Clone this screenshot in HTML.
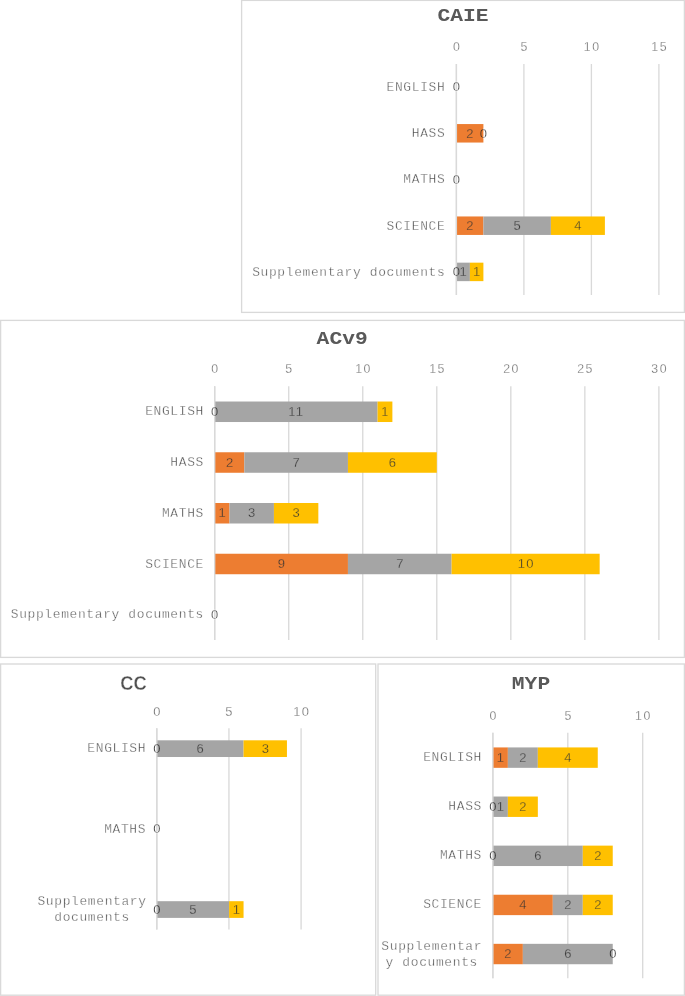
<!DOCTYPE html>
<html><head><meta charset="utf-8"><title>Charts</title>
<style>
html,body{margin:0;padding:0;background:#fff;}
svg{display:block;}
text.m{font-family:"Liberation Mono",monospace;font-size:12.3px;letter-spacing:0.620px;}
text.t{font-family:"Liberation Mono",monospace;font-weight:bold;font-size:18.5px;letter-spacing:0.030px;}
text.d{font-family:"Liberation Sans",sans-serif;}
text.sb{font-family:"Liberation Sans",sans-serif;font-weight:bold;font-size:19.5px;}
</style></head><body>
<svg width="685" height="996" viewBox="0 0 685 996">
<defs>
<linearGradient id="g0" gradientUnits="userSpaceOnUse" x1="473.40" y1="0" x2="493.40" y2="0"><stop offset="0.5" stop-color="#ED7D31"/><stop offset="0.5" stop-color="#fff"/></linearGradient>
<linearGradient id="g1" gradientUnits="userSpaceOnUse" x1="446.40" y1="0" x2="466.40" y2="0"><stop offset="0.5" stop-color="#fff"/><stop offset="0.5" stop-color="#A5A5A5"/></linearGradient>
<linearGradient id="g2" gradientUnits="userSpaceOnUse" x1="204.70" y1="0" x2="224.70" y2="0"><stop offset="0.5" stop-color="#fff"/><stop offset="0.5" stop-color="#A5A5A5"/></linearGradient>
<linearGradient id="g3" gradientUnits="userSpaceOnUse" x1="146.80" y1="0" x2="166.80" y2="0"><stop offset="0.5" stop-color="#fff"/><stop offset="0.5" stop-color="#A5A5A5"/></linearGradient>
<linearGradient id="g4" gradientUnits="userSpaceOnUse" x1="146.80" y1="0" x2="166.80" y2="0"><stop offset="0.5" stop-color="#fff"/><stop offset="0.5" stop-color="#A5A5A5"/></linearGradient>
<linearGradient id="g5" gradientUnits="userSpaceOnUse" x1="482.90" y1="0" x2="502.90" y2="0"><stop offset="0.5" stop-color="#fff"/><stop offset="0.5" stop-color="#A5A5A5"/></linearGradient>
<linearGradient id="g6" gradientUnits="userSpaceOnUse" x1="482.90" y1="0" x2="502.90" y2="0"><stop offset="0.5" stop-color="#fff"/><stop offset="0.5" stop-color="#A5A5A5"/></linearGradient>
<linearGradient id="g7" gradientUnits="userSpaceOnUse" x1="602.74" y1="0" x2="622.74" y2="0"><stop offset="0.5" stop-color="#A5A5A5"/><stop offset="0.5" stop-color="#fff"/></linearGradient>
</defs>
<rect width="685" height="996" fill="#fff"/>
<g>
<rect x="241.6" y="0.4" width="442.80" height="312.00" fill="#fff" stroke="#d9d9d9" stroke-width="1.33"/>
<text class="t" transform="translate(437.42,21.30) scale(1.15,1)" fill="#595959">CAIE</text>
<line x1="456.40" y1="64.00" x2="456.40" y2="295.00" stroke="#d9d9d9" stroke-width="1.33"/>
<text class="d" x="452.98" y="51.20" font-size="12.3" letter-spacing="1.559" fill="#5a5a5a" stroke="#fff" stroke-width="0.32">0</text>
<line x1="523.90" y1="64.00" x2="523.90" y2="295.00" stroke="#d9d9d9" stroke-width="1.33"/>
<text class="d" x="520.48" y="51.20" font-size="12.3" letter-spacing="1.559" fill="#5a5a5a" stroke="#fff" stroke-width="0.32">5</text>
<line x1="591.40" y1="64.00" x2="591.40" y2="295.00" stroke="#d9d9d9" stroke-width="1.33"/>
<text class="d" x="583.78" y="51.20" font-size="12.3" letter-spacing="1.559" fill="#5a5a5a" stroke="#fff" stroke-width="0.32">10</text>
<line x1="658.90" y1="64.00" x2="658.90" y2="295.00" stroke="#d9d9d9" stroke-width="1.33"/>
<text class="d" x="651.28" y="51.20" font-size="12.3" letter-spacing="1.559" fill="#5a5a5a" stroke="#fff" stroke-width="0.32">15</text>
<rect x="456.40" y="124.06" width="27.00" height="18.48" fill="#ED7D31"/>
<rect x="456.40" y="216.46" width="27.00" height="18.48" fill="#ED7D31"/>
<rect x="483.40" y="216.46" width="67.50" height="18.48" fill="#A5A5A5"/>
<rect x="550.90" y="216.46" width="54.00" height="18.48" fill="#FFC000"/>
<rect x="456.40" y="262.66" width="13.50" height="18.48" fill="#A5A5A5"/>
<rect x="469.90" y="262.66" width="13.50" height="18.48" fill="#FFC000"/>
<line x1="456.40" y1="64.00" x2="456.40" y2="295.00" stroke="#d9d9d9" stroke-width="1.33"/>
<text class="m" transform="translate(386.53,91.00) scale(1.05,1)" fill="#4f4f4f" stroke="#fff" stroke-width="0.32">ENGLISH</text>
<text class="d" x="452.79" y="91.40" font-size="13.0" letter-spacing="1.170" fill="#1c1c1c" stroke="#fff" stroke-width="0.32">0</text>
<text class="m" transform="translate(411.73,137.20) scale(1.05,1)" fill="#4f4f4f" stroke="#fff" stroke-width="0.32">HASS</text>
<text class="d" x="466.29" y="137.60" font-size="13.0" letter-spacing="1.170" fill="#333333" stroke="#ED7D31" stroke-width="0.32">2</text>
<text class="d" x="479.79" y="137.60" font-size="13.0" letter-spacing="1.170" fill="#1c1c1c" stroke="url(#g0)" stroke-width="0.32">0</text>
<text class="m" transform="translate(403.33,183.40) scale(1.05,1)" fill="#4f4f4f" stroke="#fff" stroke-width="0.32">MATHS</text>
<text class="d" x="452.79" y="183.80" font-size="13.0" letter-spacing="1.170" fill="#1c1c1c" stroke="#fff" stroke-width="0.32">0</text>
<text class="m" transform="translate(386.53,229.60) scale(1.05,1)" fill="#4f4f4f" stroke="#fff" stroke-width="0.32">SCIENCE</text>
<text class="d" x="466.29" y="230.00" font-size="13.0" letter-spacing="1.170" fill="#333333" stroke="#ED7D31" stroke-width="0.32">2</text>
<text class="d" x="513.54" y="230.00" font-size="13.0" letter-spacing="1.170" fill="#333333" stroke="#A5A5A5" stroke-width="0.32">5</text>
<text class="d" x="574.29" y="230.00" font-size="13.0" letter-spacing="1.170" fill="#333333" stroke="#FFC000" stroke-width="0.32">4</text>
<text class="m" transform="translate(252.13,275.80) scale(1.05,1)" fill="#4f4f4f" stroke="#fff" stroke-width="0.32">Supplementary documents</text>
<text class="d" x="452.79" y="276.20" font-size="13.0" letter-spacing="1.170" fill="#1c1c1c" stroke="url(#g1)" stroke-width="0.32">0</text>
<text class="d" x="459.54" y="276.20" font-size="13.0" letter-spacing="1.170" fill="#333333" stroke="#A5A5A5" stroke-width="0.32">1</text>
<text class="d" x="473.04" y="276.20" font-size="13.0" letter-spacing="1.170" fill="#333333" stroke="#FFC000" stroke-width="0.32">1</text>
</g>
<g>
<rect x="0.6" y="320.4" width="683.80" height="337.00" fill="#fff" stroke="#d9d9d9" stroke-width="1.33"/>
<text class="t" transform="translate(316.62,343.60) scale(1.15,1)" fill="#595959">ACv9</text>
<line x1="214.70" y1="386.20" x2="214.70" y2="639.90" stroke="#d9d9d9" stroke-width="1.33"/>
<text class="d" x="211.28" y="373.20" font-size="12.3" letter-spacing="1.559" fill="#5a5a5a" stroke="#fff" stroke-width="0.32">0</text>
<line x1="288.73" y1="386.20" x2="288.73" y2="639.90" stroke="#d9d9d9" stroke-width="1.33"/>
<text class="d" x="285.31" y="373.20" font-size="12.3" letter-spacing="1.559" fill="#5a5a5a" stroke="#fff" stroke-width="0.32">5</text>
<line x1="362.76" y1="386.20" x2="362.76" y2="639.90" stroke="#d9d9d9" stroke-width="1.33"/>
<text class="d" x="355.14" y="373.20" font-size="12.3" letter-spacing="1.559" fill="#5a5a5a" stroke="#fff" stroke-width="0.32">10</text>
<line x1="436.79" y1="386.20" x2="436.79" y2="639.90" stroke="#d9d9d9" stroke-width="1.33"/>
<text class="d" x="429.17" y="373.20" font-size="12.3" letter-spacing="1.559" fill="#5a5a5a" stroke="#fff" stroke-width="0.32">15</text>
<line x1="510.82" y1="386.20" x2="510.82" y2="639.90" stroke="#d9d9d9" stroke-width="1.33"/>
<text class="d" x="503.20" y="373.20" font-size="12.3" letter-spacing="1.559" fill="#5a5a5a" stroke="#fff" stroke-width="0.32">20</text>
<line x1="584.85" y1="386.20" x2="584.85" y2="639.90" stroke="#d9d9d9" stroke-width="1.33"/>
<text class="d" x="577.23" y="373.20" font-size="12.3" letter-spacing="1.559" fill="#5a5a5a" stroke="#fff" stroke-width="0.32">25</text>
<line x1="658.88" y1="386.20" x2="658.88" y2="639.90" stroke="#d9d9d9" stroke-width="1.33"/>
<text class="d" x="651.26" y="373.20" font-size="12.3" letter-spacing="1.559" fill="#5a5a5a" stroke="#fff" stroke-width="0.32">30</text>
<rect x="214.70" y="401.52" width="162.87" height="20.50" fill="#A5A5A5"/>
<rect x="377.57" y="401.52" width="14.81" height="20.50" fill="#FFC000"/>
<rect x="214.70" y="452.26" width="29.61" height="20.50" fill="#ED7D31"/>
<rect x="244.31" y="452.26" width="103.64" height="20.50" fill="#A5A5A5"/>
<rect x="347.95" y="452.26" width="88.84" height="20.50" fill="#FFC000"/>
<rect x="214.70" y="503.00" width="14.81" height="20.50" fill="#ED7D31"/>
<rect x="229.51" y="503.00" width="44.42" height="20.50" fill="#A5A5A5"/>
<rect x="273.92" y="503.00" width="44.42" height="20.50" fill="#FFC000"/>
<rect x="214.70" y="553.74" width="133.25" height="20.50" fill="#ED7D31"/>
<rect x="347.95" y="553.74" width="103.64" height="20.50" fill="#A5A5A5"/>
<rect x="451.60" y="553.74" width="148.06" height="20.50" fill="#FFC000"/>
<line x1="214.70" y1="386.20" x2="214.70" y2="639.90" stroke="#d9d9d9" stroke-width="1.33"/>
<text class="m" transform="translate(145.13,415.47) scale(1.05,1)" fill="#4f4f4f" stroke="#fff" stroke-width="0.32">ENGLISH</text>
<text class="d" x="211.09" y="415.87" font-size="13.0" letter-spacing="1.170" fill="#1c1c1c" stroke="url(#g2)" stroke-width="0.32">0</text>
<text class="d" x="288.32" y="415.87" font-size="13.0" letter-spacing="1.170" fill="#333333" stroke="#A5A5A5" stroke-width="0.32">11</text>
<text class="d" x="381.35" y="415.87" font-size="13.0" letter-spacing="1.170" fill="#333333" stroke="#FFC000" stroke-width="0.32">1</text>
<text class="m" transform="translate(170.33,466.21) scale(1.05,1)" fill="#4f4f4f" stroke="#fff" stroke-width="0.32">HASS</text>
<text class="d" x="225.89" y="466.61" font-size="13.0" letter-spacing="1.170" fill="#333333" stroke="#ED7D31" stroke-width="0.32">2</text>
<text class="d" x="292.52" y="466.61" font-size="13.0" letter-spacing="1.170" fill="#333333" stroke="#A5A5A5" stroke-width="0.32">7</text>
<text class="d" x="388.76" y="466.61" font-size="13.0" letter-spacing="1.170" fill="#333333" stroke="#FFC000" stroke-width="0.32">6</text>
<text class="m" transform="translate(161.93,516.95) scale(1.05,1)" fill="#4f4f4f" stroke="#fff" stroke-width="0.32">MATHS</text>
<text class="d" x="218.49" y="517.35" font-size="13.0" letter-spacing="1.170" fill="#333333" stroke="#ED7D31" stroke-width="0.32">1</text>
<text class="d" x="248.10" y="517.35" font-size="13.0" letter-spacing="1.170" fill="#333333" stroke="#A5A5A5" stroke-width="0.32">3</text>
<text class="d" x="292.52" y="517.35" font-size="13.0" letter-spacing="1.170" fill="#333333" stroke="#FFC000" stroke-width="0.32">3</text>
<text class="m" transform="translate(145.13,567.69) scale(1.05,1)" fill="#4f4f4f" stroke="#fff" stroke-width="0.32">SCIENCE</text>
<text class="d" x="277.71" y="568.09" font-size="13.0" letter-spacing="1.170" fill="#333333" stroke="#ED7D31" stroke-width="0.32">9</text>
<text class="d" x="396.16" y="568.09" font-size="13.0" letter-spacing="1.170" fill="#333333" stroke="#A5A5A5" stroke-width="0.32">7</text>
<text class="d" x="517.81" y="568.09" font-size="13.0" letter-spacing="1.170" fill="#333333" stroke="#FFC000" stroke-width="0.32">10</text>
<text class="m" transform="translate(10.73,618.43) scale(1.05,1)" fill="#4f4f4f" stroke="#fff" stroke-width="0.32">Supplementary documents</text>
<text class="d" x="211.09" y="618.83" font-size="13.0" letter-spacing="1.170" fill="#1c1c1c" stroke="#fff" stroke-width="0.32">0</text>
</g>
<g>
<rect x="0.6" y="664.0" width="375.10" height="331.20" fill="#fff" stroke="#d9d9d9" stroke-width="1.33"/>
<line x1="156.80" y1="728.30" x2="156.80" y2="929.40" stroke="#d9d9d9" stroke-width="1.33"/>
<text class="d" x="153.21" y="716.00" font-size="12.9" letter-spacing="1.226" fill="#5a5a5a" stroke="#fff" stroke-width="0.32">0</text>
<line x1="228.95" y1="728.30" x2="228.95" y2="929.40" stroke="#d9d9d9" stroke-width="1.33"/>
<text class="d" x="225.36" y="716.00" font-size="12.9" letter-spacing="1.226" fill="#5a5a5a" stroke="#fff" stroke-width="0.32">5</text>
<line x1="301.10" y1="728.30" x2="301.10" y2="929.40" stroke="#d9d9d9" stroke-width="1.33"/>
<text class="d" x="293.31" y="716.00" font-size="12.9" letter-spacing="1.226" fill="#5a5a5a" stroke="#fff" stroke-width="0.32">10</text>
<rect x="156.80" y="740.31" width="86.76" height="16.70" fill="#A5A5A5"/>
<rect x="243.56" y="740.31" width="43.38" height="16.70" fill="#FFC000"/>
<rect x="156.80" y="901.19" width="72.30" height="16.70" fill="#A5A5A5"/>
<rect x="229.10" y="901.19" width="14.46" height="16.70" fill="#FFC000"/>
<line x1="156.80" y1="728.30" x2="156.80" y2="929.40" stroke="#d9d9d9" stroke-width="1.33"/>
<text class="m" transform="translate(87.33,752.31) scale(1.05,1)" fill="#4f4f4f" stroke="#fff" stroke-width="0.32">ENGLISH</text>
<text class="d" x="153.19" y="752.71" font-size="13.0" letter-spacing="1.170" fill="#1c1c1c" stroke="url(#g3)" stroke-width="0.32">0</text>
<text class="d" x="196.57" y="752.71" font-size="13.0" letter-spacing="1.170" fill="#333333" stroke="#A5A5A5" stroke-width="0.32">6</text>
<text class="d" x="261.64" y="752.71" font-size="13.0" letter-spacing="1.170" fill="#333333" stroke="#FFC000" stroke-width="0.32">3</text>
<text class="m" transform="translate(104.13,832.75) scale(1.05,1)" fill="#4f4f4f" stroke="#fff" stroke-width="0.32">MATHS</text>
<text class="d" x="153.19" y="833.15" font-size="13.0" letter-spacing="1.170" fill="#1c1c1c" stroke="#fff" stroke-width="0.32">0</text>
<text class="m" transform="translate(37.43,905.24) scale(1.05,1)" fill="#4f4f4f" stroke="#fff" stroke-width="0.32">Supplementary</text>
<text class="m" transform="translate(54.23,921.14) scale(1.05,1)" fill="#4f4f4f" stroke="#fff" stroke-width="0.32">documents</text>
<text class="d" x="153.19" y="913.59" font-size="13.0" letter-spacing="1.170" fill="#1c1c1c" stroke="url(#g4)" stroke-width="0.32">0</text>
<text class="d" x="189.34" y="913.59" font-size="13.0" letter-spacing="1.170" fill="#333333" stroke="#A5A5A5" stroke-width="0.32">5</text>
<text class="d" x="232.72" y="913.59" font-size="13.0" letter-spacing="1.170" fill="#333333" stroke="#FFC000" stroke-width="0.32">1</text>
</g>
<text class="sb" transform="translate(133.4,689.5) scale(0.94,1)" fill="#505050" stroke="#fff" stroke-width="0.35" text-anchor="middle">CC</text>
<g>
<rect x="378.0" y="664.0" width="306.40" height="331.20" fill="#fff" stroke="#d9d9d9" stroke-width="1.33"/>
<text class="t" transform="translate(511.82,689.10) scale(1.15,1)" fill="#595959">MYP</text>
<line x1="492.90" y1="732.70" x2="492.90" y2="978.20" stroke="#d9d9d9" stroke-width="1.33"/>
<text class="d" x="489.48" y="719.90" font-size="12.3" letter-spacing="1.559" fill="#5a5a5a" stroke="#fff" stroke-width="0.32">0</text>
<line x1="567.80" y1="732.70" x2="567.80" y2="978.20" stroke="#d9d9d9" stroke-width="1.33"/>
<text class="d" x="564.38" y="719.90" font-size="12.3" letter-spacing="1.559" fill="#5a5a5a" stroke="#fff" stroke-width="0.32">5</text>
<line x1="642.70" y1="732.70" x2="642.70" y2="978.20" stroke="#d9d9d9" stroke-width="1.33"/>
<text class="d" x="635.08" y="719.90" font-size="12.3" letter-spacing="1.559" fill="#5a5a5a" stroke="#fff" stroke-width="0.32">10</text>
<rect x="492.90" y="747.43" width="14.98" height="20.40" fill="#ED7D31"/>
<rect x="507.88" y="747.43" width="29.96" height="20.40" fill="#A5A5A5"/>
<rect x="537.84" y="747.43" width="59.92" height="20.40" fill="#FFC000"/>
<rect x="492.90" y="796.53" width="14.98" height="20.40" fill="#A5A5A5"/>
<rect x="507.88" y="796.53" width="29.96" height="20.40" fill="#FFC000"/>
<rect x="492.90" y="845.63" width="89.88" height="20.40" fill="#A5A5A5"/>
<rect x="582.78" y="845.63" width="29.96" height="20.40" fill="#FFC000"/>
<rect x="492.90" y="894.73" width="59.92" height="20.40" fill="#ED7D31"/>
<rect x="552.82" y="894.73" width="29.96" height="20.40" fill="#A5A5A5"/>
<rect x="582.78" y="894.73" width="29.96" height="20.40" fill="#FFC000"/>
<rect x="492.90" y="943.83" width="29.96" height="20.40" fill="#ED7D31"/>
<rect x="522.86" y="943.83" width="89.88" height="20.40" fill="#A5A5A5"/>
<line x1="492.90" y1="732.70" x2="492.90" y2="978.20" stroke="#d9d9d9" stroke-width="1.33"/>
<text class="m" transform="translate(423.13,761.15) scale(1.05,1)" fill="#4f4f4f" stroke="#fff" stroke-width="0.32">ENGLISH</text>
<text class="d" x="496.78" y="761.55" font-size="13.0" letter-spacing="1.170" fill="#333333" stroke="#ED7D31" stroke-width="0.32">1</text>
<text class="d" x="519.25" y="761.55" font-size="13.0" letter-spacing="1.170" fill="#333333" stroke="#A5A5A5" stroke-width="0.32">2</text>
<text class="d" x="564.19" y="761.55" font-size="13.0" letter-spacing="1.170" fill="#333333" stroke="#FFC000" stroke-width="0.32">4</text>
<text class="m" transform="translate(448.33,810.25) scale(1.05,1)" fill="#4f4f4f" stroke="#fff" stroke-width="0.32">HASS</text>
<text class="d" x="489.29" y="810.65" font-size="13.0" letter-spacing="1.170" fill="#1c1c1c" stroke="url(#g5)" stroke-width="0.32">0</text>
<text class="d" x="496.78" y="810.65" font-size="13.0" letter-spacing="1.170" fill="#333333" stroke="#A5A5A5" stroke-width="0.32">1</text>
<text class="d" x="519.25" y="810.65" font-size="13.0" letter-spacing="1.170" fill="#333333" stroke="#FFC000" stroke-width="0.32">2</text>
<text class="m" transform="translate(439.93,859.35) scale(1.05,1)" fill="#4f4f4f" stroke="#fff" stroke-width="0.32">MATHS</text>
<text class="d" x="489.29" y="859.75" font-size="13.0" letter-spacing="1.170" fill="#1c1c1c" stroke="url(#g6)" stroke-width="0.32">0</text>
<text class="d" x="534.23" y="859.75" font-size="13.0" letter-spacing="1.170" fill="#333333" stroke="#A5A5A5" stroke-width="0.32">6</text>
<text class="d" x="594.15" y="859.75" font-size="13.0" letter-spacing="1.170" fill="#333333" stroke="#FFC000" stroke-width="0.32">2</text>
<text class="m" transform="translate(423.13,908.45) scale(1.05,1)" fill="#4f4f4f" stroke="#fff" stroke-width="0.32">SCIENCE</text>
<text class="d" x="519.25" y="908.85" font-size="13.0" letter-spacing="1.170" fill="#333333" stroke="#ED7D31" stroke-width="0.32">4</text>
<text class="d" x="564.19" y="908.85" font-size="13.0" letter-spacing="1.170" fill="#333333" stroke="#A5A5A5" stroke-width="0.32">2</text>
<text class="d" x="594.15" y="908.85" font-size="13.0" letter-spacing="1.170" fill="#333333" stroke="#FFC000" stroke-width="0.32">2</text>
<text class="m" transform="translate(381.33,949.60) scale(1.05,1)" fill="#4f4f4f" stroke="#fff" stroke-width="0.32">Supplementar</text>
<text class="m" transform="translate(385.53,965.50) scale(1.05,1)" fill="#4f4f4f" stroke="#fff" stroke-width="0.32">y documents</text>
<text class="d" x="504.27" y="957.95" font-size="13.0" letter-spacing="1.170" fill="#333333" stroke="#ED7D31" stroke-width="0.32">2</text>
<text class="d" x="564.19" y="957.95" font-size="13.0" letter-spacing="1.170" fill="#333333" stroke="#A5A5A5" stroke-width="0.32">6</text>
<text class="d" x="609.13" y="957.95" font-size="13.0" letter-spacing="1.170" fill="#1c1c1c" stroke="url(#g7)" stroke-width="0.32">0</text>
</g>
</svg>
</body></html>
